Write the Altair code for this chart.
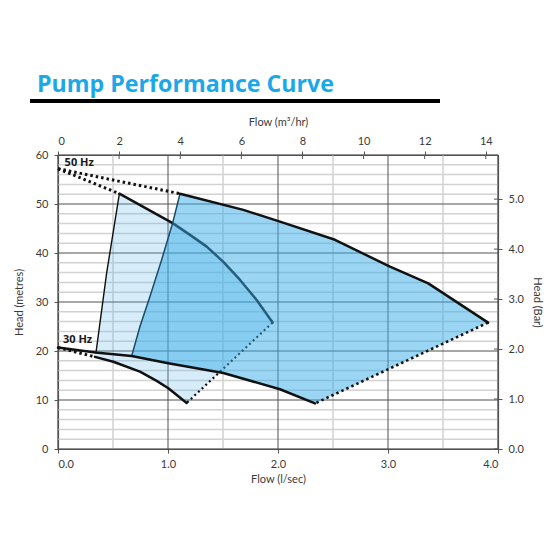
import altair as alt
import pandas as pd

# ---- data (flow in l/sec, head in metres) ----
dot50_hi_x = [0.0, 1.109]
dot50_hi_y = [57.2, 52.1]
dot50_lo_x = [0.0, 0.558]
dot50_lo_y = [57.2, 52.1]

small_top_x = [0.558, 1.042, 1.20, 1.352, 1.503, 1.655, 1.806, 1.951]
small_top_y = [52.1, 46.1, 43.7, 41.3, 38.2, 34.5, 30.4, 25.8]
small_right_x = [1.951, 1.170]
small_right_y = [25.8, 9.4]
small_bot_x = [1.170, 1.003, 0.897, 0.745, 0.503, 0.336]
small_bot_y = [9.4, 12.4, 13.9, 15.8, 17.8, 18.8]
small_left_x = [0.345, 0.442, 0.558]
small_left_y = [19.6, 35.9, 52.1]

line30_x = [0.0, 0.340, 0.670, 1.003, 1.503, 2.018, 2.336]
line30_y = [20.7, 19.7, 19.0, 17.5, 15.5, 12.2, 9.3]
dot30_x = [0.0, 0.336]
dot30_y = [20.7, 18.8]

big_left_x = [0.670, 0.745, 0.836, 0.942, 1.042, 1.109]
big_left_y = [19.0, 25.0, 31.1, 38.6, 46.1, 52.1]
big_top_x = [1.109, 1.685, 2.018, 2.518, 3.018, 3.366, 3.91]
big_top_y = [52.1, 48.8, 46.4, 42.7, 37.2, 33.8, 25.8]
big_right_x = [3.91, 2.336]
big_right_y = [25.8, 9.3]

hz_x = [0.06, 0.045]
hz_y = [58.4, 22.2]
hz_text = ["50 Hz", "30 Hz"]

flow_ticks = [0.0, 1.0, 2.0, 3.0, 4.0]
head_ticks = [0, 10, 20, 30, 40, 50, 60]
m3hr_ticks = [0, 2, 4, 6, 8, 10, 12, 14]
bar_ticks = [0.0, 1.0, 2.0, 3.0, 4.0, 5.0]
vgrid = [0.0, 0.5, 1.0, 1.5, 2.0, 2.5, 3.0, 3.5, 4.0]
hgrid = list(range(0, 61, 2))

LS_TO_M3HR = 3.6
M_PER_BAR = 10.2

FONT = "Lato"
xs = alt.Scale(domain=[0, 4], nice=False, zero=False)
ys = alt.Scale(domain=[0, 60], nice=False, zero=False)


def df(xv, yv):
    return pd.DataFrame({"x": xv, "y": yv, "i": list(range(len(xv)))})


def X(axis=None):
    return alt.X("x:Q", scale=xs, axis=axis)


def Y(axis=None):
    return alt.Y("y:Q", scale=ys, axis=axis)


def line(xv, yv, color="#111", width=2.5, dash=None, opacity=1.0):
    kw = dict(color=color, strokeWidth=width, opacity=opacity, strokeJoin="round")
    if dash:
        kw["strokeDash"] = dash
        kw["strokeCap"] = "butt"
    else:
        kw["strokeCap"] = "round"
    return alt.Chart(df(xv, yv)).mark_line(**kw).encode(x=X(), y=Y(), order="i:O")


def poly(xv, yv, fill, fop):
    return alt.Chart(df(xv, yv)).mark_line(
        fill=fill, fillOpacity=fop, strokeOpacity=0, strokeWidth=0
    ).encode(x=X(), y=Y(), order="i:O")


# grid
vg = pd.DataFrame({"x": vgrid, "major": [v % 1 == 0 for v in vgrid]})
hg = pd.DataFrame({"y": hgrid, "major": [v % 10 == 0 for v in hgrid]})
vgrid_minor = alt.Chart(vg[~vg.major]).mark_rule(color="#c9c9c9", strokeWidth=1.3).encode(x=X())
hgrid_minor = alt.Chart(hg[~hg.major]).mark_rule(color="#d2d2d2", strokeWidth=1.5).encode(y=Y())
vgrid_major = alt.Chart(vg[vg.major]).mark_rule(color="#505050", strokeWidth=1).encode(x=X())
hgrid_major = alt.Chart(hg[hg.major]).mark_rule(color="#505050", strokeWidth=1).encode(y=Y())

# polygons built from the edge arrays
small_px = small_top_x + small_right_x[1:] + small_bot_x[1:] + small_left_x[:-1]
small_py = small_top_y + small_right_y[1:] + small_bot_y[1:] + small_left_y[:-1]
big_px = big_top_x + big_right_x[1:] + line30_x[-2:1:-1] + big_left_x[1:-1]
big_py = big_top_y + big_right_y[1:] + line30_y[-2:1:-1] + big_left_y[1:-1]

small_fill = poly(small_px, small_py, "#5fb3e6", 0.25)
big_fill = poly(big_px, big_py, "#36aeea", 0.5)

DOT = [2.5, 3]

layers = [
    vgrid_minor, hgrid_minor, vgrid_major, hgrid_major,
    small_fill,
    line(small_top_x, small_top_y, width=2.5),
    line(small_left_x, small_left_y, width=1.4),
    line(small_bot_x, small_bot_y, width=2.5),
    line(small_right_x, small_right_y, width=2.2, dash=[2, 3]),
    big_fill,
    line(big_left_x, big_left_y, color="#1b4a66", width=1.5),
    line(big_top_x, big_top_y, width=2.5),
    line(big_right_x, big_right_y, width=2.6, dash=DOT),
    line(line30_x, line30_y, width=2.5),
    line(dot50_hi_x, dot50_hi_y, width=3, dash=DOT),
    line(dot50_lo_x, dot50_lo_y, width=3, dash=DOT),
    line(dot30_x, dot30_y, width=3, dash=DOT),
]

hz = alt.Chart(pd.DataFrame({"x": hz_x, "y": hz_y, "t": hz_text})).mark_text(
    align="left", baseline="middle", font="Open Sans", fontWeight="bold",
    fontSize=11, color="#1a1a1a"
).encode(x=X(), y=Y(), text="t:N")
layers.append(hz)

axis_common = dict(
    domainColor="#555", tickColor="#555", labelColor="#3a3a3a", titleColor="#3a3a3a",
    labelFont=FONT, titleFont=FONT, labelFontSize=11, titleFontSize=11,
    titleFontWeight="normal", grid=False, tickSize=4, domainWidth=1.2,
)

axes_bl = alt.Chart(pd.DataFrame({"x": flow_ticks, "y": head_ticks[:5]})).mark_point(opacity=0).encode(
    x=X(alt.Axis(orient="bottom", values=flow_ticks, format=".1f", title="Flow (l/sec)",
                 labelPadding=5, titlePadding=4, **axis_common)),
    y=Y(alt.Axis(orient="left", values=head_ticks, format="d", title="Head (metres)",
                 labelPadding=6, titlePadding=11, **axis_common)),
)

top_vals = [v / LS_TO_M3HR for v in m3hr_ticks]
right_vals = [b * M_PER_BAR for b in bar_ticks]
axes_tr = alt.Chart(pd.DataFrame({"x": top_vals[:6], "y": right_vals})).mark_point(opacity=0).encode(
    x=X(alt.Axis(orient="top", values=top_vals, labelExpr="round(datum.value*3.6)",
                 title="Flow (m³/hr)", labelPadding=5, titlePadding=8, **axis_common)),
    y=Y(alt.Axis(orient="right", values=right_vals, labelExpr="format(datum.value/10.2, '.1f')",
                 title="Head (Bar)", labelPadding=6, titlePadding=8, **axis_common)),
)
layers += [axes_bl, axes_tr]

# inward halves of the crossing ticks on the top and right axes
top_in = alt.Chart(pd.DataFrame({"x": top_vals})).mark_rule(color="#555", strokeWidth=1).encode(
    x=X(), y=alt.value(0), y2=alt.value(4)
)
right_in = alt.Chart(pd.DataFrame({"y": right_vals})).mark_rule(color="#555", strokeWidth=1).encode(
    y=Y(), x=alt.value(436), x2=alt.value(440)
)
layers += [top_in, right_in]

underline = alt.Chart(pd.DataFrame({"a": [0]})).mark_rule(color="#000", strokeWidth=4).encode(
    x=alt.value(-28), x2=alt.value(382), y=alt.value(-54)
)
layers.append(underline)

chart = alt.layer(*layers).resolve_axis(x="independent", y="independent").properties(
    width=440, height=294,
    padding={"left": 50, "top": 147, "right": 54, "bottom": 60},
    autosize=alt.AutoSizeParams(type="none"),
    title=alt.TitleParams(
        text="Pump Performance Curve", anchor="start", frame="group", dx=-21, dy=23,
        offset=7, fontSize=23.2, font="Open Sans", fontWeight=700, color="#1ba8e8",
        baseline="alphabetic",
    ),
).configure_view(stroke="#555", strokeWidth=1.2)

chart.save("out.html", embed_options={"renderer": "svg", "actions": False})
